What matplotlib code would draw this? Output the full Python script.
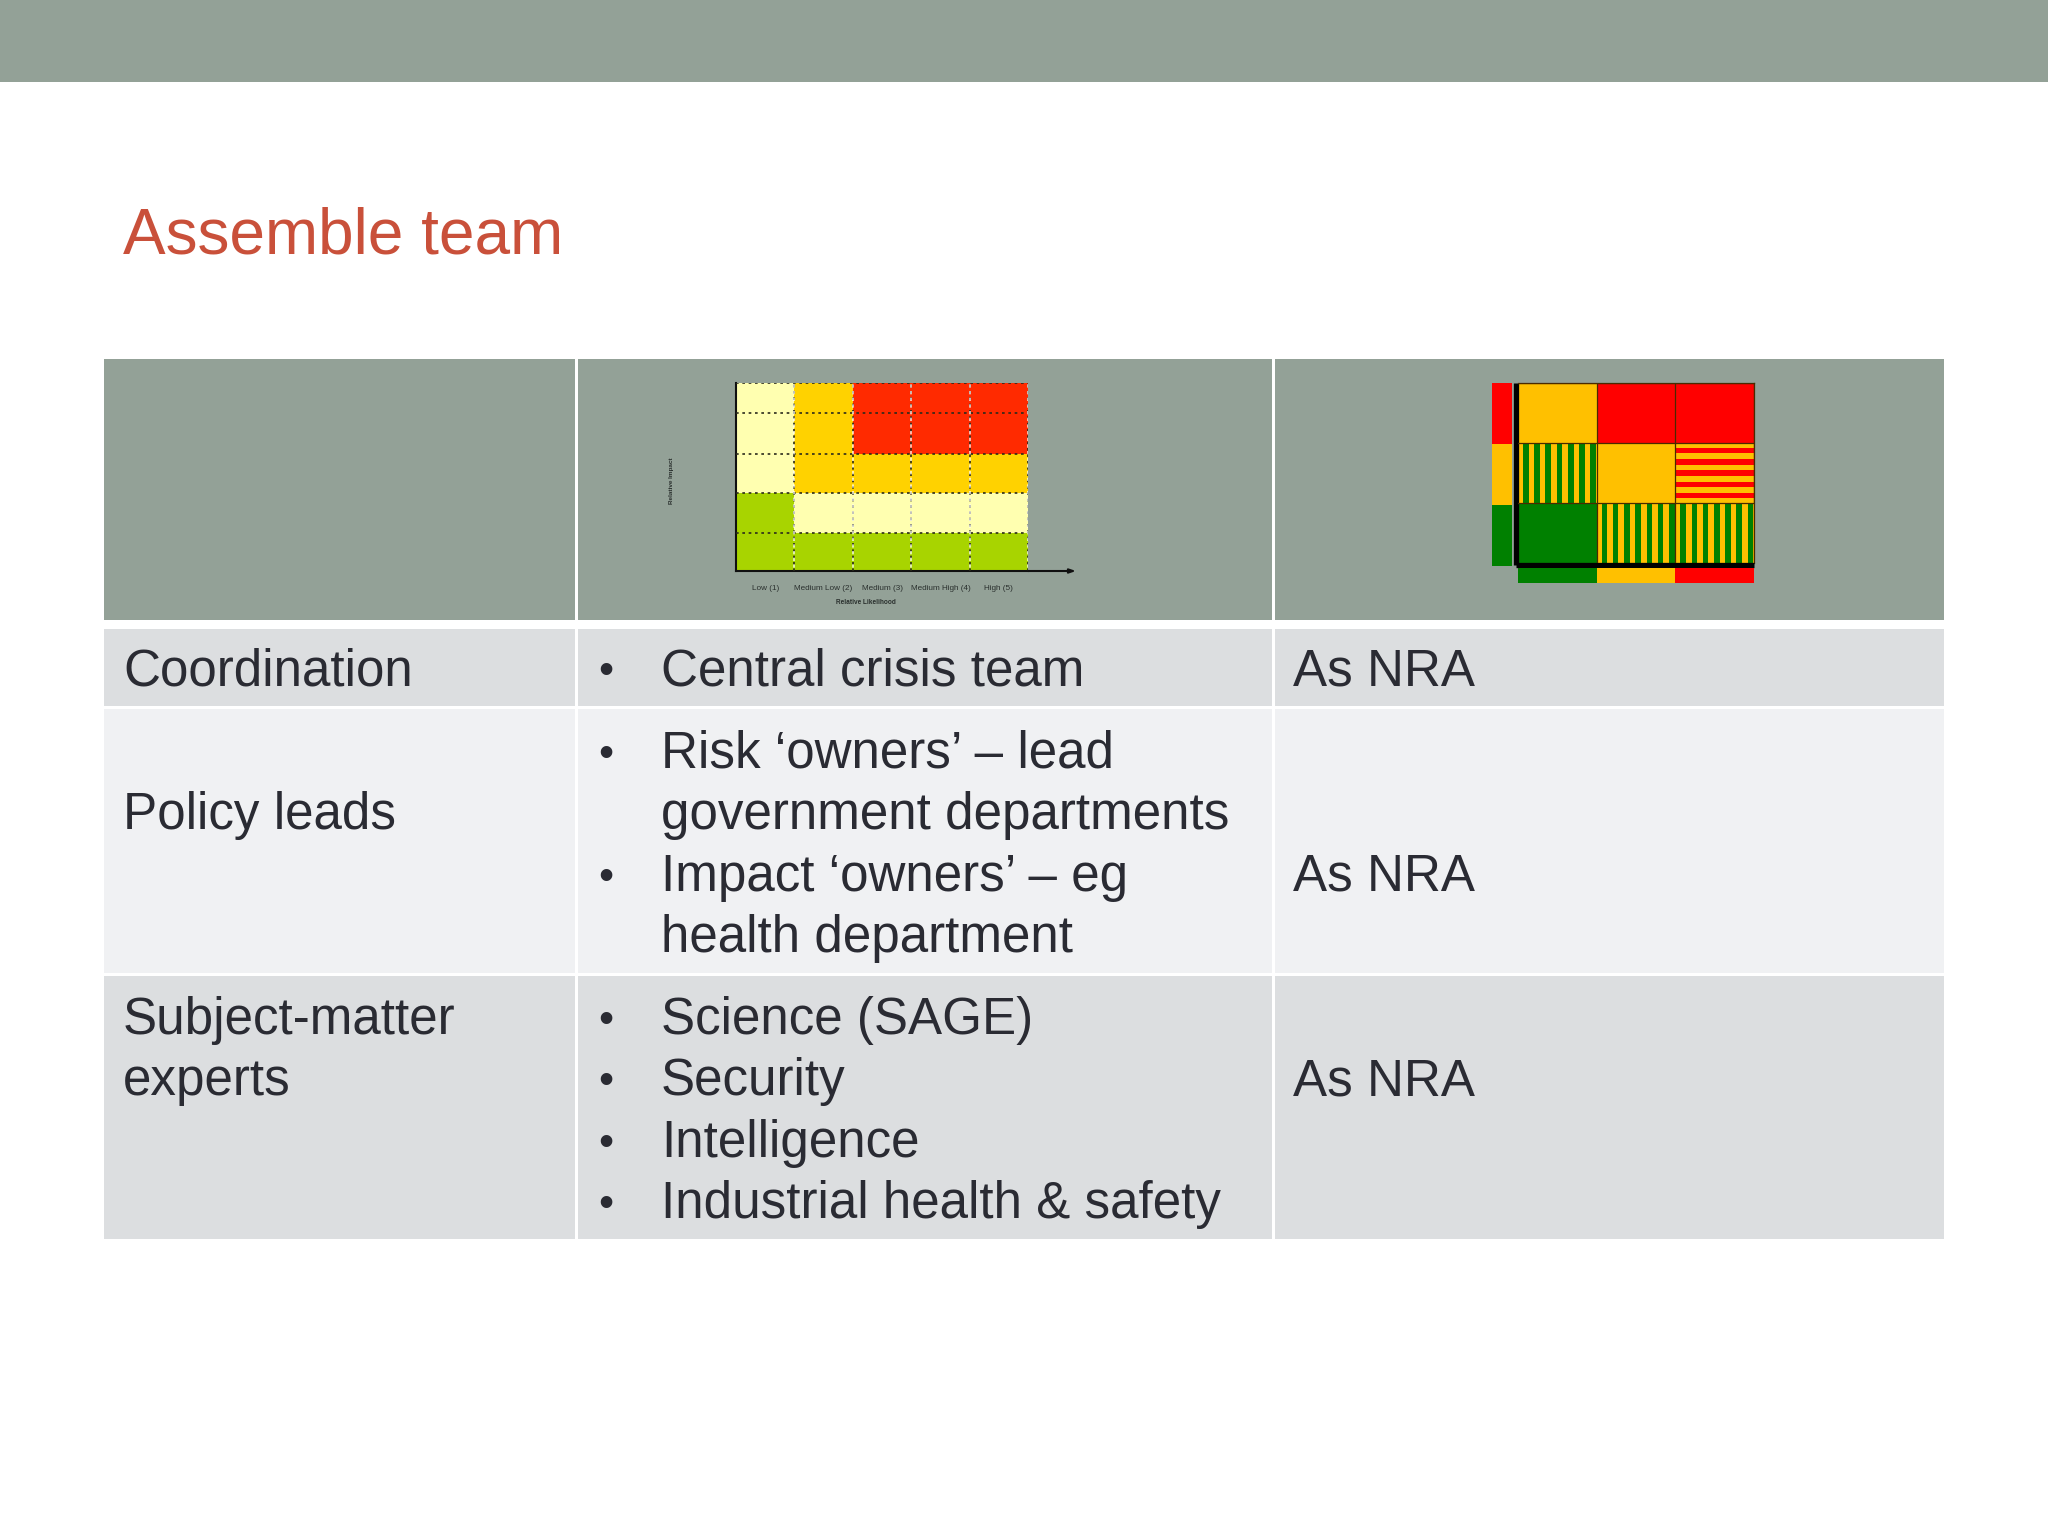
import numpy as np
import matplotlib
matplotlib.use("Agg")
import matplotlib.pyplot as plt
from matplotlib.colors import ListedColormap, BoundaryNorm
from matplotlib.patches import Rectangle

plt.rcParams['font.family'] = ['Liberation Sans', 'DejaVu Sans']

# ---------- data ----------
title = "Assemble team"
row_labels = [["Coordination"], ["Policy leads"], ["Subject-matter", "experts"]]
row_label_line = [0, 1, 0]
col2_lines = [
    [("Central crisis team", True)],
    [("Risk ‘owners’ – lead", True), ("government departments", False),
     ("Impact ‘owners’ – eg", True), ("health department", False)],
    [("Science (SAGE)", True), ("Security", True), ("Intelligence", True),
     ("Industrial health & safety", True)],
]
col3_text = ["As NRA", "As NRA", "As NRA"]
col3_line = [0, 2, 1]

likelihood_labels = ["Low (1)", "Medium Low (2)", "Medium (3)", "Medium High (4)", "High (5)"]
likelihood_title = "Relative Likelihood"
impact_title = "Relative Impact"
# rows from lowest impact to highest; 0 green, 1 pale, 2 amber, 3 red
nra_matrix = [[0, 0, 0, 0, 0],
              [0, 1, 1, 1, 1],
              [1, 2, 2, 2, 2],
              [1, 2, 3, 3, 3],
              [1, 2, 3, 3, 3]]
nra_band_edges = [0, 38, 78, 117, 158, 188]

# rows from low to high; 0 green, 1 amber, 2 red
grid_matrix = [[0, 1, 1],
               [1, 1, 1],
               [1, 2, 2]]
green_stripe_cells = [(1, 0), (2, 0), (0, 1)]   # (column, row)
red_stripe_cells = [(2, 1)]
impact_key = [0, 1, 2]
likelihood_key = [0, 1, 2]

# ---------- style / layout ----------
W, H = 2048, 1536
SAGE = "#93A197"
ROW_DARK = "#DCDEE0"
ROW_LIGHT = "#F0F1F3"
TEXT = "#2A2B33"
TITLE = "#C9503A"
NRA_COLORS = ["#A8D400", "#FFFFB0", "#FFD200", "#FF2A00"]
GRID_COLORS = ["#008000", "#FFC000", "#FF0000"]

col_edges = [(104, 575), (578, 1271.5), (1274.5, 1944)]
row_edges = [(359, 620, SAGE), (629, 706, ROW_DARK), (708.5, 973, ROW_LIGHT), (975.5, 1238.5, ROW_DARK)]
first_baseline = [685, 768, 1034]
line_step = 61.4
BODY_PT = 36.8
BULLET_PT = 31


def px_axes(fig, x0, y0, x1, y1, **kw):
    return fig.add_axes([x0 / W, 1 - y1 / H, (x1 - x0) / W, (y1 - y0) / H], **kw)


fig = plt.figure(figsize=(W / 100, H / 100), dpi=100, facecolor="white")
bg = fig.add_axes([0, 0, 1, 1])
bg.set_xlim(0, W)
bg.set_ylim(H, 0)
bg.axis("off")

bg.add_patch(Rectangle((0, 0), W, 82, color=SAGE, lw=0))
bg.text(123, 254, title, fontsize=46, color=TITLE, va="baseline", ha="left")

for y0, y1, color in row_edges:
    for x0, x1 in col_edges:
        bg.add_patch(Rectangle((x0, y0), x1 - x0, y1 - y0, color=color, lw=0))

for i in range(3):
    for k, line in enumerate(row_labels[i]):
        bg.text(123, first_baseline[i] + (row_label_line[i] + k) * line_step, line,
                fontsize=BODY_PT, color=TEXT, va="baseline", ha="left")
    for k, (line, bullet) in enumerate(col2_lines[i]):
        y = first_baseline[i] + k * line_step
        if bullet:
            bg.text(606, y - 2, "•", fontsize=BULLET_PT, color=TEXT, va="baseline", ha="center")
        bg.text(661, y, line, fontsize=BODY_PT, color=TEXT, va="baseline", ha="left")
    bg.text(1293, first_baseline[i] + col3_line[i] * line_step, col3_text[i],
            fontsize=BODY_PT, color=TEXT, va="baseline", ha="left")

# ---------- NRA heat map ----------
ax = px_axes(fig, 736, 383, 1028, 571)
ax.patch.set_alpha(0)
xe = np.arange(6)
ax.pcolormesh(xe, nra_band_edges, np.array(nra_matrix),
              cmap=ListedColormap(NRA_COLORS),
              norm=BoundaryNorm(np.arange(-0.5, 4.5), 4), linewidth=0, rasterized=True)
ax.set_xlim(0, 5)
ax.set_ylim(0, nra_band_edges[-1])
ax.set_xticks(np.arange(5) + 0.5)
ax.set_xticklabels(likelihood_labels, fontsize=5.9, color="#2a302e")
ax.tick_params(axis="both", which="both", length=0)
ax.tick_params(axis="x", pad=10)
ax.set_yticks([])
ax.set_xticks(xe[1:], minor=True)
ax.set_yticks(nra_band_edges[1:], minor=True)
ax.vlines(xe[1:], 0, nra_band_edges[-1], colors="white", lw=1.2,
          linestyles=[(2, (2, 2))], zorder=3, alpha=0.8)
ax.grid(which="minor", color="#2b2b1c", lw=1.2, linestyle=(0, (1.6, 2.2)), zorder=4)
ax.set_axisbelow(False)
for s in ("top", "right"):
    ax.spines[s].set_visible(False)
for s in ("left", "bottom"):
    ax.spines[s].set_color("#101010")
    ax.spines[s].set_linewidth(1.5)
ax.annotate("", xy=(1076, 571), xycoords=bg.transData, xytext=(5, 0), textcoords="data",
            arrowprops=dict(arrowstyle="-|>,head_width=0.12,head_length=0.35",
                            color="#101010", lw=1.5, shrinkA=0, shrinkB=0))
bg.text(866, 602, likelihood_title, fontsize=4.7, fontweight="bold", color="#2a302e",
        ha="center", va="center")
bg.text(672, 481, impact_title, fontsize=4.6, fontweight="bold", color="#2a302e",
        ha="center", va="center", rotation=90)

# ---------- 3x3 grid ----------
cmap3 = ListedColormap(GRID_COLORS)
norm3 = BoundaryNorm(np.arange(-0.5, 3.5), 3)
ax2 = px_axes(fig, 1518, 383, 1754, 563)
ax2.patch.set_alpha(0)
ax2.pcolormesh(np.arange(4), np.arange(4), np.array(grid_matrix), cmap=cmap3, norm=norm3,
               linewidth=0, rasterized=True)
for col, row in green_stripe_cells:
    ax2.bar(col + (np.arange(7) + 0.69) / 7, 1, width=0.5 / 7, bottom=row,
            color=GRID_COLORS[0], lw=0, zorder=2)
for col, row in red_stripe_cells:
    ax2.barh(row + 1 - (0.128 + np.arange(5) * 0.187), 1, height=0.09, left=col,
             color=GRID_COLORS[2], lw=0, zorder=2)
ax2.set_xlim(0, 3)
ax2.set_ylim(0, 3)
ax2.set_xticks(np.arange(1, 4))
ax2.set_yticks(np.arange(1, 4))
ax2.tick_params(length=0, labelbottom=False, labelleft=False)
ax2.grid(color="#4a2a00", lw=0.9, zorder=3)
ax2.set_axisbelow(False)
ax2.spines["top"].set_color("#4a2a00")
ax2.spines["right"].set_color("#4a2a00")
ax2.spines["top"].set_linewidth(0.9)
ax2.spines["right"].set_linewidth(0.9)
for s in ("left", "bottom"):
    ax2.spines[s].set_color("black")
    ax2.spines[s].set_linewidth(3.8)
    ax2.spines[s].set_position(("outward", 1.2))
    ax2.spines[s].set_capstyle("butt")
ax2.spines["left"].set_bounds(-0.03, 3)
ax2.spines["bottom"].set_bounds(-0.02, 3)

# impact key (left) and likelihood key (bottom)
ax3 = px_axes(fig, 1492, 383, 1512, 566)
ax3.pcolormesh([0, 1], np.arange(4), np.array(impact_key).reshape(3, 1), cmap=cmap3, norm=norm3,
               linewidth=0, rasterized=True)
ax3.axis("off")
ax4 = px_axes(fig, 1518, 568, 1754, 583)
ax4.pcolormesh(np.arange(4), [0, 1], np.array(likelihood_key).reshape(1, 3), cmap=cmap3, norm=norm3,
               linewidth=0, rasterized=True)
ax4.axis("off")

fig.savefig("out.png", dpi=100, facecolor="white")
